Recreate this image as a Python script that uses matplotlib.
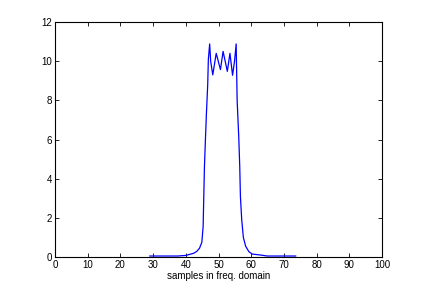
import matplotlib
matplotlib.use("Agg")
import matplotlib.pyplot as plt

# samples
freq = [29, 33, 37.5, 40, 42.4, 43.3, 44.2, 44.9, 45.3, 45.5, 45.7,
        46.0, 46.3, 46.7, 46.9, 47.3, 47.6, 48.25, 49.3, 50.6, 51.4,
        52.7, 53.5, 54.3, 54.9, 55.4, 55.7, 56.2, 56.5, 56.7, 57.1,
        57.6, 58.3, 59.3, 60.3, 62.9, 64.9, 69, 73.6]
mag = [0.05, 0.05, 0.05, 0.08, 0.19, 0.28, 0.45, 0.75, 1.55, 3.1, 4.6,
       6.0, 7.3, 8.8, 10.1, 10.88, 10.0, 9.3, 10.4, 9.57, 10.5,
       9.48, 10.4, 9.28, 10.0, 10.88, 8.0, 6.1, 4.6, 3.1, 1.9,
       1.0, 0.55, 0.27, 0.15, 0.1, 0.05, 0.05, 0.05]
xticks = list(range(0, 101, 10))
yticks = list(range(0, 13, 2))

plt.rcParams['font.family'] = ['Liberation Sans', 'DejaVu Sans']
fig = plt.figure(figsize=(4.23, 2.89), dpi=100)
ax = fig.add_axes([55/423, 32/289, 327/423, 235/289])
ax.plot(freq, mag, color='#0000ff', lw=0.9)
ax.set_xlim(0, 100)
ax.set_ylim(0, 12)
ax.set_xticks(xticks)
ax.set_yticks(yticks)
ax.tick_params(direction='in', length=3, width=0.6, labelsize=7,
               top=True, right=True, pad=2)
for s in ax.spines.values():
    s.set_linewidth(0.8)
ax.set_xlabel('samples in freq. domain', fontsize=7, labelpad=1)
fig.savefig('out.png', dpi=100)
